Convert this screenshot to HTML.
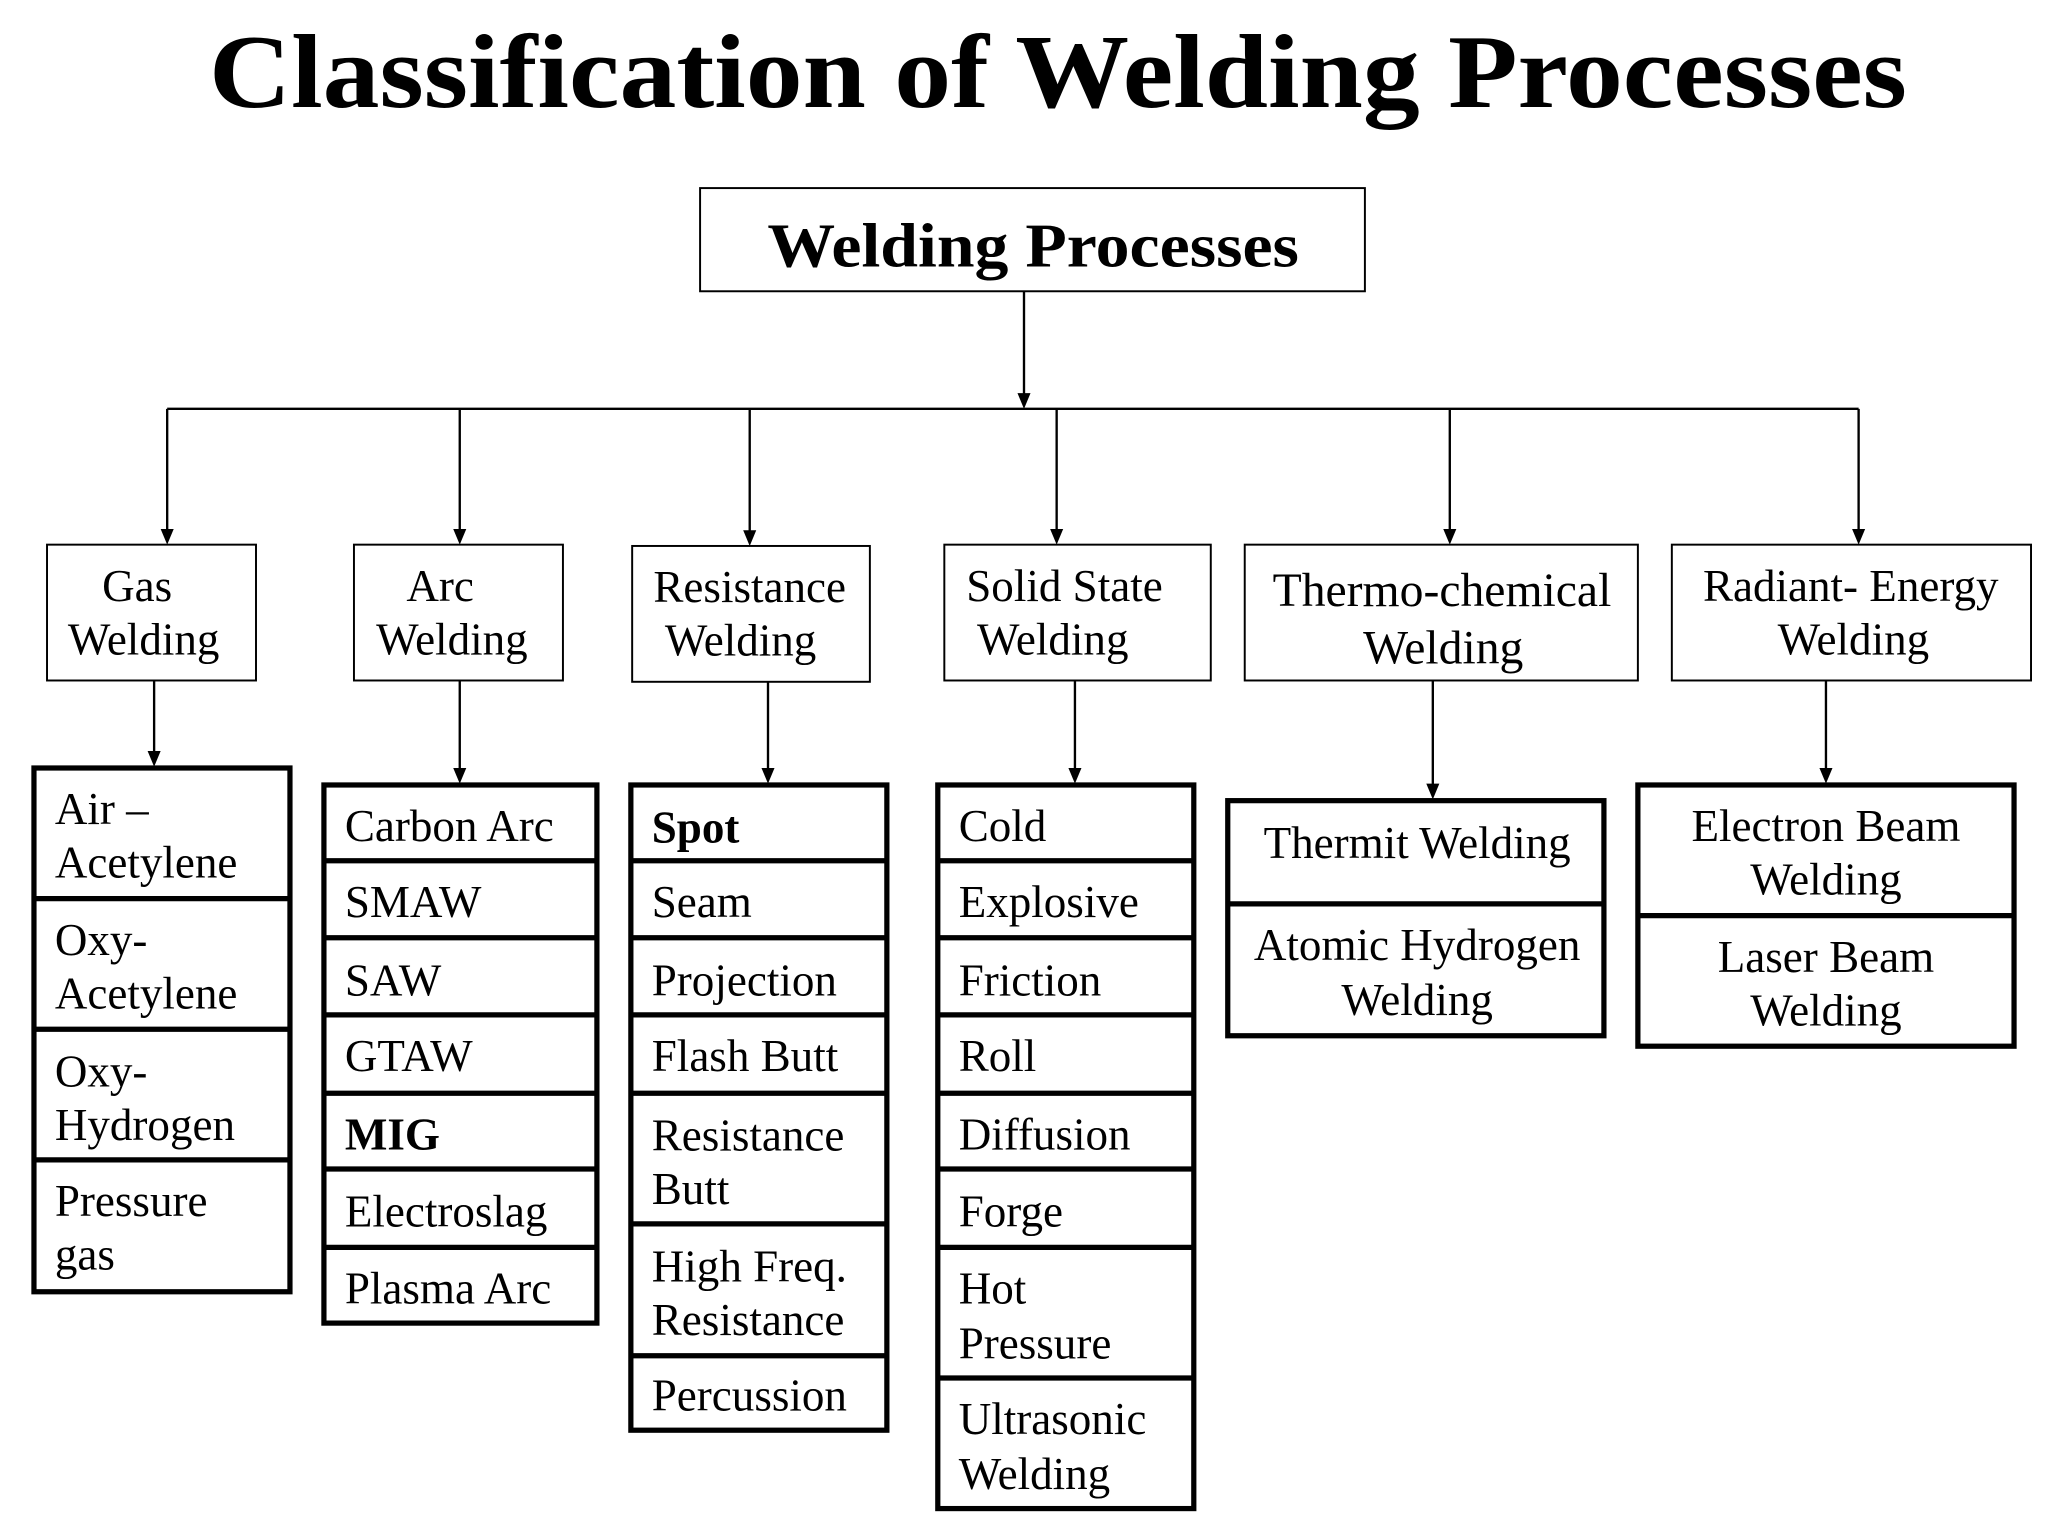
<!DOCTYPE html>
<html><head><meta charset="utf-8"><style>
html,body{margin:0;padding:0;background:#fff;}
svg{display:block;}
text{font-family:"Liberation Serif",serif;fill:#000;}
.c{font-size:34.5px;}
.m{text-anchor:middle;}
.b{font-weight:bold;}
</style></head><body>
<svg width="2048" height="1536" viewBox="0 0 1568 1176" preserveAspectRatio="none" xmlns="http://www.w3.org/2000/svg">
<rect width="1568" height="1176" fill="#fff"/>
<text x="810" y="82" class="m b" font-size="80" textLength="1300" lengthAdjust="spacingAndGlyphs">Classification of Welding Processes</text>

<rect x="536" y="144" width="509" height="79" fill="none" stroke="#000" stroke-width="1.5"/>
<text x="791" y="204" class="m b" font-size="48" textLength="407" lengthAdjust="spacingAndGlyphs">Welding Processes</text>

<g stroke="#000" stroke-width="1.8" fill="none">
<line x1="784" y1="223" x2="784" y2="305"/>
<line x1="128" y1="313" x2="1423" y2="313"/>
<line x1="128" y1="313" x2="128" y2="408"/>
<line x1="352" y1="313" x2="352" y2="408"/>
<line x1="574" y1="313" x2="574" y2="409"/>
<line x1="809" y1="313" x2="809" y2="408"/>
<line x1="1110" y1="313" x2="1110" y2="408"/>
<line x1="1423" y1="313" x2="1423" y2="408"/>
<line x1="118" y1="521" x2="118" y2="578"/>
<line x1="352" y1="521" x2="352" y2="591"/>
<line x1="588" y1="522" x2="588" y2="591"/>
<line x1="823" y1="521" x2="823" y2="591"/>
<line x1="1097" y1="521" x2="1097" y2="603"/>
<line x1="1398" y1="521" x2="1398" y2="591"/>
</g>
<g fill="#000">
<polygon points="779,301 789,301 784,313"/>
<polygon points="123,405 133,405 128,417"/>
<polygon points="347,405 357,405 352,417"/>
<polygon points="569,406 579,406 574,418"/>
<polygon points="804,405 814,405 809,417"/>
<polygon points="1105,405 1115,405 1110,417"/>
<polygon points="1418,405 1428,405 1423,417"/>
<polygon points="113,575 123,575 118,587"/>
<polygon points="347,588 357,588 352,600"/>
<polygon points="583,588 593,588 588,600"/>
<polygon points="818,588 828,588 823,600"/>
<polygon points="1092,600 1102,600 1097,612"/>
<polygon points="1393,588 1403,588 1398,600"/>
</g>

<g fill="#fff" stroke="#000" stroke-width="1.5">
<rect x="36" y="417" width="160" height="104"/>
<rect x="271" y="417" width="160" height="104"/>
<rect x="484" y="418" width="182" height="104"/>
<rect x="723" y="417" width="204" height="104"/>
<rect x="953" y="417" width="301" height="104"/>
<rect x="1280" y="417" width="275" height="104"/>
</g>
<g class="c m">
<text x="105" y="460">Gas</text><text x="110" y="501">Welding</text>
<text x="337" y="460">Arc</text><text x="346" y="501">Welding</text>
<text x="574" y="461">Resistance</text><text x="567" y="502">Welding</text>
<text x="815" y="460">Solid State</text><text x="806" y="501">Welding</text>
<text x="1104" y="464" font-size="36.5">Thermo-chemical</text><text x="1105" y="508" font-size="36.5">Welding</text>
<text x="1417" y="460">Radiant- Energy</text><text x="1419" y="501">Welding</text>
</g>

<g fill="none" stroke="#000" stroke-width="4">
<rect x="26" y="588" width="196" height="401"/>
<line x1="26" y1="688" x2="222" y2="688"/><line x1="26" y1="788" x2="222" y2="788"/><line x1="26" y1="888" x2="222" y2="888"/>
<rect x="248" y="601" width="209" height="412"/>
<line x1="248" y1="659" x2="457" y2="659"/><line x1="248" y1="718" x2="457" y2="718"/><line x1="248" y1="777" x2="457" y2="777"/><line x1="248" y1="837" x2="457" y2="837"/><line x1="248" y1="895" x2="457" y2="895"/><line x1="248" y1="955" x2="457" y2="955"/>
<rect x="483" y="601" width="196" height="494"/>
<line x1="483" y1="659" x2="679" y2="659"/><line x1="483" y1="718" x2="679" y2="718"/><line x1="483" y1="777" x2="679" y2="777"/><line x1="483" y1="837" x2="679" y2="837"/><line x1="483" y1="937" x2="679" y2="937"/><line x1="483" y1="1038" x2="679" y2="1038"/>
<rect x="718" y="601" width="196" height="554"/>
<line x1="718" y1="659" x2="914" y2="659"/><line x1="718" y1="718" x2="914" y2="718"/><line x1="718" y1="777" x2="914" y2="777"/><line x1="718" y1="837" x2="914" y2="837"/><line x1="718" y1="895" x2="914" y2="895"/><line x1="718" y1="955" x2="914" y2="955"/><line x1="718" y1="1055" x2="914" y2="1055"/>
<rect x="940" y="613" width="288" height="180"/>
<line x1="940" y1="692" x2="1228" y2="692"/>
<rect x="1254" y="601" width="288" height="200"/>
<line x1="1254" y1="701" x2="1542" y2="701"/>
</g>

<g class="c">
<text x="42" y="631">Air –</text><text x="42" y="672">Acetylene</text>
<text x="42" y="731">Oxy-</text><text x="42" y="772">Acetylene</text>
<text x="42" y="832">Oxy-</text><text x="42" y="873">Hydrogen</text>
<text x="42" y="931">Pressure</text><text x="42" y="972">gas</text>

<text x="264" y="644">Carbon Arc</text>
<text x="264" y="702">SMAW</text>
<text x="264" y="762">SAW</text>
<text x="264" y="820">GTAW</text>
<text x="264" y="880" class="b">MIG</text>
<text x="264" y="939">Electroslag</text>
<text x="264" y="998">Plasma Arc</text>

<text x="499" y="645" class="b">Spot</text>
<text x="499" y="702">Seam</text>
<text x="499" y="762">Projection</text>
<text x="499" y="820">Flash Butt</text>
<text x="499" y="881">Resistance</text><text x="499" y="922">Butt</text>
<text x="499" y="981">High Freq.</text><text x="499" y="1022">Resistance</text>
<text x="499" y="1080">Percussion</text>

<text x="734" y="644">Cold</text>
<text x="734" y="702">Explosive</text>
<text x="734" y="762">Friction</text>
<text x="734" y="820">Roll</text>
<text x="734" y="880">Diffusion</text>
<text x="734" y="939">Forge</text>
<text x="734" y="998">Hot</text><text x="734" y="1040">Pressure</text>
<text x="734" y="1098">Ultrasonic</text><text x="734" y="1140">Welding</text>

<text x="1085" y="657" class="m">Thermit Welding</text>
<text x="1085" y="735" class="m">Atomic Hydrogen</text>
<text x="1085" y="777" class="m">Welding</text>

<text x="1398" y="644" class="m">Electron Beam</text>
<text x="1398" y="685" class="m">Welding</text>
<text x="1398" y="744" class="m">Laser Beam</text>
<text x="1398" y="785" class="m">Welding</text>
</g>
</svg>
</body></html>
